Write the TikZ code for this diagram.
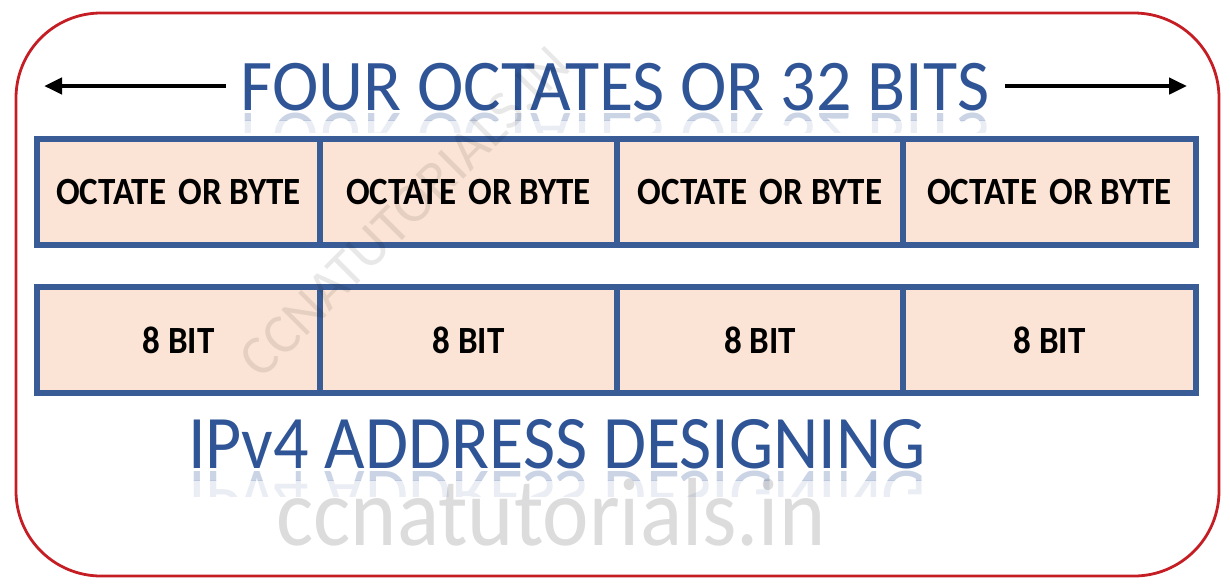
\documentclass[tikz,border=0pt]{standalone}
\usepackage{fontspec}
\setmainfont{Carlito}
\usepackage{graphicx}
\usetikzlibrary{arrows.meta}
\definecolor{framered}{HTML}{C41E24}
\definecolor{titleblue}{HTML}{2F5597}
\definecolor{boxblue}{HTML}{3A5C96}
\definecolor{boxfill}{HTML}{FBE4D5}
\definecolor{wmgrey}{HTML}{DCDCDC}
\tikzset{
  cell/.style={draw=boxblue, fill=boxfill, line width=5.5pt, minimum height=106pt, inner sep=0pt, outer sep=0pt,
    font=\fontsize{35}{40}\selectfont\bfseries, text=black},
  bigtitle/.style={text=titleblue, anchor=base, inner sep=0pt},
  longarrow/.style={line width=4.5pt, -{Triangle[length=18pt,width=16pt]}},
}
\newcommand{\celltext}[1]{\scalebox{1}[1.1]{#1}}
\begin{document}
\begin{tikzpicture}[x=1pt,y=-1pt]
\useasboundingbox (0,0) rectangle (1230,587);
% outer frame
\draw[framered, line width=2.8pt, rounded corners=85pt] (16,13) rectangle (1219,576);

% title and its reflection
\node[bigtitle, font=\fontsize{70}{80}\selectfont] (title) at (615,110) {\scalebox{1}[1.04]{FOUR OCTATES OR 32 BITS}};
\begin{scope}
  \clip (0,111) rectangle (1230,120);
  \node[bigtitle, font=\fontsize{70}{80}\selectfont, yscale=-1, transform shape, opacity=0.25] (titleref1) at (615,113) {\scalebox{1}[1.04]{FOUR OCTATES OR 32 BITS}};
\end{scope}
\begin{scope}
  \clip (0,120) rectangle (1230,132);
  \node[bigtitle, font=\fontsize{70}{80}\selectfont, yscale=-1, transform shape, opacity=0.1] (titleref2) at (615,113) {\scalebox{1}[1.04]{FOUR OCTATES OR 32 BITS}};
\end{scope}

% arrows
\coordinate (la0) at (226,86);
\coordinate (la) at (44,86);
\coordinate (ra0) at (1005,86);
\coordinate (ra) at (1187,86);
\draw[longarrow] (la0) -- (la);
\draw[longarrow] (ra0) -- (ra);

% top row
\node[cell, minimum width=283pt] (o1) at (178.5,192) {\celltext{OCTATE\hspace{0.35em}OR BYTE}};
\node[cell, minimum width=297pt] (o2) at (468.5,192) {\celltext{OCTATE\hspace{0.35em}OR BYTE}};
\node[cell, minimum width=286pt] (o3) at (760,192) {\celltext{OCTATE\hspace{0.35em}OR BYTE}};
\node[cell, minimum width=293pt] (o4) at (1049.5,192) {\celltext{OCTATE\hspace{0.35em}OR BYTE}};

% bottom row
\node[cell, minimum width=283pt] (b1) at (178.5,340) {\celltext{8 BIT}};
\node[cell, minimum width=297pt] (b2) at (468.5,340) {\celltext{8 BIT}};
\node[cell, minimum width=286pt] (b3) at (760,340) {\celltext{8 BIT}};
\node[cell, minimum width=293pt] (b4) at (1049.5,340) {\celltext{8 BIT}};

% url watermark
\node[text=wmgrey, anchor=base, inner sep=0pt, font=\fontsize{88}{100}\selectfont] (url) at (551,545) {\scalebox{1}[1.1]{ccnatutorials.in}};

% subtitle and reflection
\node[bigtitle, font=\fontsize{70}{80}\selectfont] (sub) at (557,468) {\scalebox{1}[1.08]{IPv4 ADDRESS DESIGNING}};
\begin{scope}
  \clip (0,469) rectangle (1230,480);
  \node[bigtitle, font=\fontsize{70}{80}\selectfont, yscale=-1, transform shape, opacity=0.25] (subref1) at (557,471) {\scalebox{1}[1.08]{IPv4 ADDRESS DESIGNING}};
\end{scope}
\begin{scope}
  \clip (0,480) rectangle (1230,496);
  \node[bigtitle, font=\fontsize{70}{80}\selectfont, yscale=-1, transform shape, opacity=0.1] (subref2) at (557,471) {\scalebox{1}[1.08]{IPv4 ADDRESS DESIGNING}};
\end{scope}

% diagonal watermark
\node[rotate=45, text=black, opacity=0.09, font=\fontsize{56}{60}\selectfont] (wm) at (405,212) {CCNATUTORIALS.IN};
\end{tikzpicture}
\end{document}
